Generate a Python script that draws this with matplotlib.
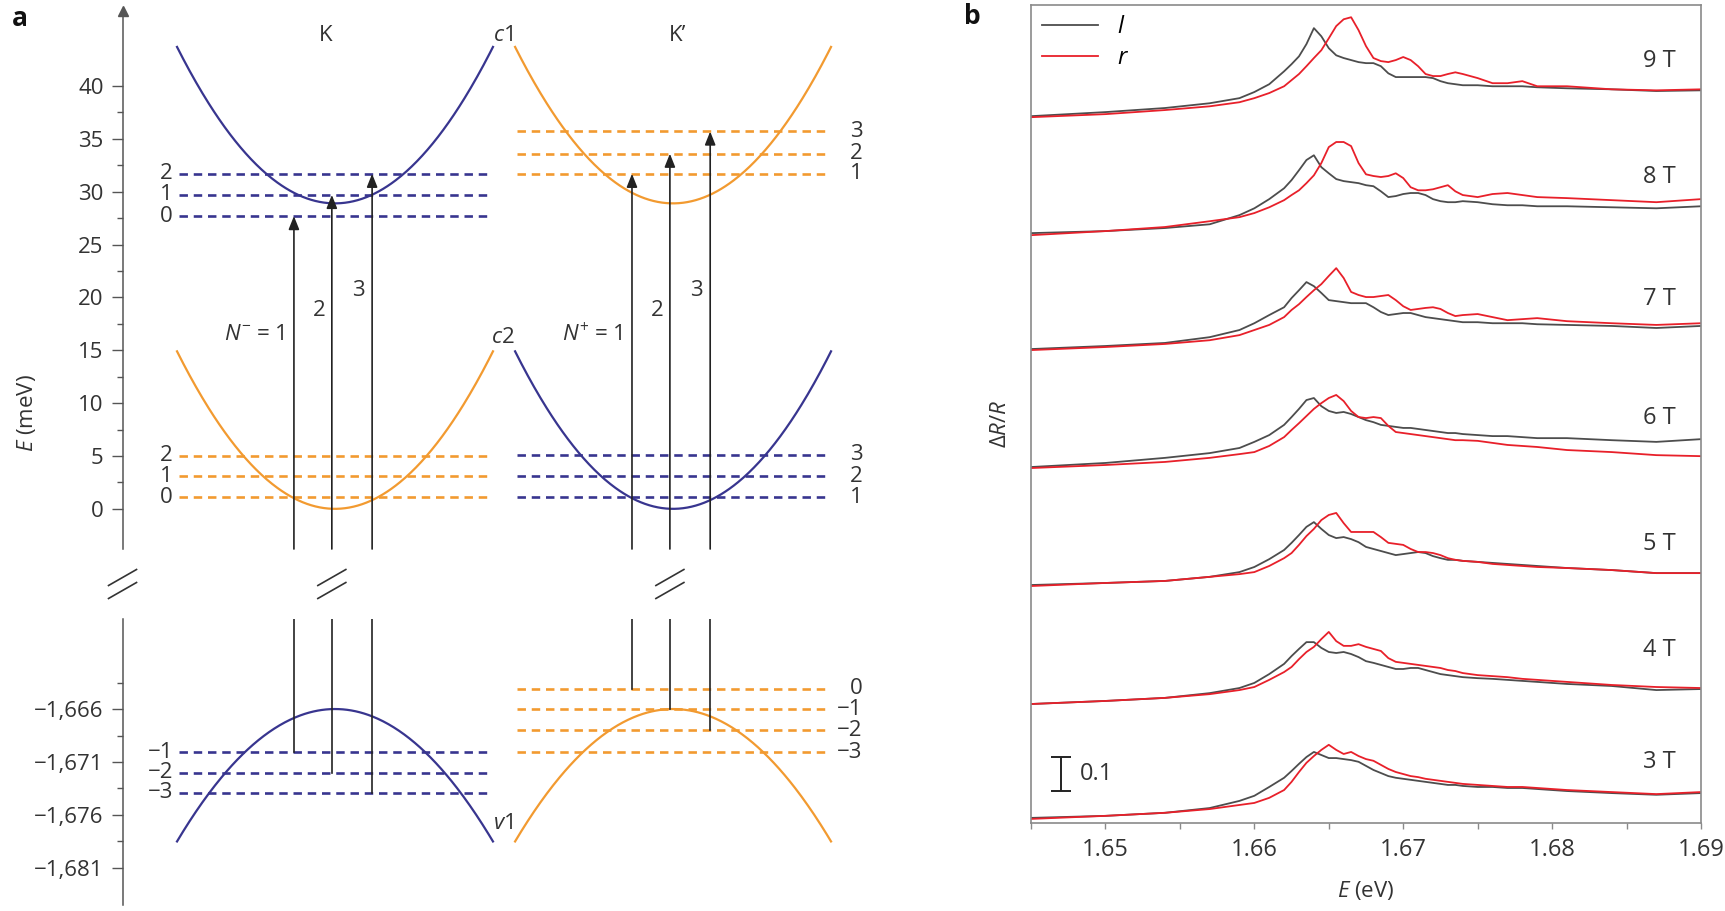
import matplotlib
matplotlib.use("Agg")
import matplotlib.pyplot as plt
import numpy as np
from matplotlib.lines import Line2D
from matplotlib.transforms import IdentityTransform
from matplotlib.ticker import FuncFormatter

plt.rcParams["font.family"] = ["Open Sans", "DejaVu Sans"]
plt.rcParams["mathtext.fontset"] = "custom"
plt.rcParams["mathtext.rm"] = "Open Sans"
plt.rcParams["mathtext.it"] = "Open Sans:italic"
plt.rcParams["mathtext.bf"] = "Open Sans:bold"

BLUE = "#38358f"
ORANGE = "#f29a30"
INK = "#333333"
AXIS = "#555555"
GRAY = "#4d4d4d"
RED = "#e8202a"

# ---------------- panel a: band schematic (meV) ----------------
valley_x = [0.0, 2.14]            # K, K'
valley_names = ["K", "K\u2019"]
c1_min, c1_edge = 28.9, 43.7
c2_min, c2_edge = 0.0, 14.9
v1_max, v1_edge = -1666.0, -1678.5
c1_colors = [BLUE, ORANGE]
c2_colors = [ORANGE, BLUE]
v1_colors = [BLUE, ORANGE]

lvl_c1 = [[27.7, 29.7, 31.7], [31.7, 33.6, 35.7]]
lvl_c1_lab = [["0", "1", "2"], ["1", "2", "3"]]
lvl_c2 = [[1.1, 3.1, 5.0], [1.1, 3.1, 5.1]]
lvl_c2_lab = [["0", "1", "2"], ["1", "2", "3"]]
lvl_v1 = [[-1670.1, -1672.0, -1673.9], [-1664.1, -1666.0, -1668.0, -1670.1]]
lvl_v1_lab = [["\u22121", "\u22122", "\u22123"], ["0", "\u22121", "\u22122", "\u22123"]]

arrow_dx = [-0.26, -0.02, 0.235]
arrow_top = [[27.7, 29.7, 31.7], [31.7, 33.6, 35.7]]
arrow_bottom = [[-1670.1, -1672.0, -1673.9], [-1664.1, -1666.0, -1668.0]]
arrow_labels = [["$N^{-}$ = 1", "2", "3"], ["$N^{+}$ = 1", "2", "3"]]

up_ticks = np.arange(0, 41, 5)
lo_ticks = [-1681, -1676, -1671, -1666]

# ---------------- panel b: reflectance spectra ----------------
energy = [1.645, 1.650, 1.654, 1.657, 1.659, 1.660, 1.661, 1.662, 1.6625, 1.663,
          1.6635, 1.664, 1.6645, 1.665, 1.6655, 1.666, 1.6665, 1.667, 1.6675, 1.668,
          1.6685, 1.669, 1.6695, 1.670, 1.6705, 1.671, 1.6715, 1.672, 1.6725, 1.673,
          1.6735, 1.674, 1.675, 1.676, 1.677, 1.678, 1.679, 1.681, 1.684, 1.687, 1.690]
fields = ["9 T", "8 T", "7 T", "6 T", "5 T", "4 T", "3 T"]
offsets = [2.079, 1.729, 1.391, 1.050, 0.700, 0.350, 0.009]
label_y = [2.24, 1.90, 1.54, 1.19, 0.82, 0.51, 0.18]

l_9T = [0.000, 0.012, 0.024, 0.038, 0.053, 0.071, 0.094, 0.132, 0.153, 0.176, 0.212, 0.259, 0.235, 0.200, 0.179, 0.171, 0.165, 0.159, 0.156, 0.156, 0.147, 0.126, 0.115, 0.115, 0.115, 0.115, 0.115, 0.112, 0.103, 0.097, 0.094, 0.091, 0.091, 0.088, 0.088, 0.088, 0.085, 0.082, 0.079, 0.074, 0.076]
r_9T = [-0.003, 0.006, 0.018, 0.029, 0.041, 0.053, 0.068, 0.088, 0.106, 0.124, 0.147, 0.171, 0.194, 0.229, 0.265, 0.285, 0.291, 0.253, 0.206, 0.171, 0.162, 0.159, 0.165, 0.174, 0.165, 0.147, 0.124, 0.118, 0.118, 0.124, 0.129, 0.124, 0.112, 0.097, 0.097, 0.103, 0.088, 0.088, 0.079, 0.076, 0.079]
l_8T = [0.006, 0.012, 0.021, 0.032, 0.059, 0.079, 0.106, 0.138, 0.162, 0.191, 0.221, 0.235, 0.200, 0.182, 0.165, 0.159, 0.156, 0.153, 0.147, 0.144, 0.129, 0.112, 0.115, 0.121, 0.124, 0.124, 0.118, 0.106, 0.100, 0.097, 0.097, 0.100, 0.097, 0.091, 0.088, 0.088, 0.085, 0.085, 0.082, 0.079, 0.085]
r_8T = [0.000, 0.012, 0.024, 0.041, 0.053, 0.065, 0.082, 0.103, 0.118, 0.132, 0.153, 0.176, 0.212, 0.259, 0.274, 0.274, 0.262, 0.212, 0.179, 0.174, 0.171, 0.174, 0.182, 0.168, 0.141, 0.132, 0.132, 0.135, 0.141, 0.147, 0.129, 0.118, 0.112, 0.121, 0.124, 0.118, 0.112, 0.109, 0.103, 0.097, 0.106]
l_7T = [0.003, 0.012, 0.021, 0.038, 0.059, 0.079, 0.103, 0.126, 0.153, 0.176, 0.200, 0.188, 0.168, 0.147, 0.144, 0.141, 0.138, 0.138, 0.138, 0.126, 0.112, 0.103, 0.106, 0.109, 0.109, 0.103, 0.097, 0.094, 0.091, 0.088, 0.085, 0.082, 0.082, 0.079, 0.079, 0.079, 0.076, 0.074, 0.071, 0.065, 0.071]
r_7T = [0.000, 0.009, 0.018, 0.029, 0.044, 0.059, 0.074, 0.097, 0.118, 0.135, 0.156, 0.176, 0.194, 0.218, 0.241, 0.212, 0.171, 0.162, 0.156, 0.156, 0.159, 0.162, 0.147, 0.129, 0.118, 0.121, 0.124, 0.126, 0.121, 0.109, 0.100, 0.103, 0.106, 0.097, 0.088, 0.091, 0.094, 0.085, 0.079, 0.074, 0.079]
l_6T = [-0.003, 0.009, 0.024, 0.038, 0.053, 0.071, 0.091, 0.121, 0.144, 0.168, 0.194, 0.200, 0.176, 0.162, 0.156, 0.159, 0.153, 0.144, 0.135, 0.129, 0.121, 0.118, 0.115, 0.112, 0.112, 0.109, 0.106, 0.103, 0.100, 0.097, 0.097, 0.094, 0.091, 0.088, 0.088, 0.085, 0.082, 0.082, 0.076, 0.071, 0.079]
r_6T = [-0.006, 0.003, 0.012, 0.024, 0.035, 0.041, 0.059, 0.085, 0.106, 0.126, 0.147, 0.168, 0.185, 0.200, 0.209, 0.191, 0.162, 0.144, 0.141, 0.144, 0.141, 0.118, 0.100, 0.097, 0.094, 0.091, 0.088, 0.085, 0.082, 0.079, 0.076, 0.076, 0.074, 0.068, 0.062, 0.059, 0.056, 0.047, 0.041, 0.032, 0.029]
l_5T = [0.000, 0.006, 0.012, 0.024, 0.038, 0.053, 0.076, 0.103, 0.124, 0.147, 0.171, 0.185, 0.165, 0.147, 0.138, 0.141, 0.135, 0.126, 0.112, 0.106, 0.100, 0.094, 0.088, 0.091, 0.094, 0.097, 0.094, 0.085, 0.079, 0.074, 0.074, 0.071, 0.068, 0.065, 0.062, 0.059, 0.056, 0.050, 0.044, 0.035, 0.035]
r_5T = [-0.003, 0.006, 0.012, 0.024, 0.032, 0.038, 0.056, 0.079, 0.094, 0.118, 0.144, 0.165, 0.191, 0.206, 0.212, 0.182, 0.156, 0.156, 0.156, 0.156, 0.141, 0.124, 0.121, 0.118, 0.106, 0.097, 0.097, 0.094, 0.088, 0.079, 0.074, 0.071, 0.068, 0.062, 0.059, 0.056, 0.053, 0.050, 0.044, 0.035, 0.035]
l_4T = [0.000, 0.009, 0.018, 0.032, 0.047, 0.062, 0.088, 0.118, 0.141, 0.162, 0.182, 0.182, 0.165, 0.153, 0.150, 0.153, 0.147, 0.138, 0.126, 0.121, 0.115, 0.109, 0.103, 0.103, 0.106, 0.106, 0.100, 0.094, 0.088, 0.085, 0.082, 0.079, 0.076, 0.074, 0.071, 0.068, 0.065, 0.059, 0.053, 0.041, 0.044]
r_4T = [0.000, 0.009, 0.018, 0.029, 0.041, 0.050, 0.071, 0.094, 0.109, 0.132, 0.153, 0.168, 0.191, 0.212, 0.185, 0.171, 0.171, 0.176, 0.168, 0.162, 0.156, 0.135, 0.124, 0.121, 0.118, 0.115, 0.112, 0.109, 0.106, 0.100, 0.097, 0.091, 0.085, 0.082, 0.079, 0.074, 0.071, 0.065, 0.056, 0.050, 0.047]
l_3T = [0.006, 0.012, 0.021, 0.035, 0.056, 0.071, 0.097, 0.124, 0.144, 0.165, 0.185, 0.200, 0.191, 0.182, 0.182, 0.179, 0.176, 0.171, 0.159, 0.147, 0.138, 0.129, 0.124, 0.121, 0.118, 0.115, 0.112, 0.109, 0.106, 0.103, 0.103, 0.100, 0.097, 0.097, 0.094, 0.094, 0.091, 0.085, 0.079, 0.074, 0.079]
r_3T = [0.003, 0.012, 0.021, 0.032, 0.044, 0.050, 0.065, 0.088, 0.112, 0.141, 0.168, 0.188, 0.206, 0.221, 0.206, 0.194, 0.200, 0.188, 0.179, 0.174, 0.162, 0.150, 0.141, 0.135, 0.129, 0.126, 0.121, 0.118, 0.115, 0.112, 0.109, 0.106, 0.103, 0.100, 0.097, 0.097, 0.094, 0.088, 0.082, 0.076, 0.082]

l_traces = [l_9T, l_8T, l_7T, l_6T, l_5T, l_4T, l_3T]
r_traces = [r_9T, r_8T, r_7T, r_6T, r_5T, r_4T, r_3T]

W, H = 1725, 911
fig = plt.figure(figsize=(W / 100, H / 100), dpi=100)

ax_up = fig.add_axes([123 / W, 1 - 549 / H, 757 / W, 538 / H])
ax_lo = fig.add_axes([123 / W, 1 - 905 / H, 757 / W, 286 / H])
ax_up.set_ylim(-3.8, 47.1)
ax_lo.set_ylim(-1684.5, -1657.5)

for ax in (ax_up, ax_lo):
    ax.set_xlim(-1.342, 3.45)
    ax.patch.set_visible(False)
    for s in ("top", "right", "bottom"):
        ax.spines[s].set_visible(False)
    ax.spines["left"].set_color(AXIS)
    ax.spines["left"].set_linewidth(1.1)
    ax.set_xticks([])
    ax.tick_params(axis="y", which="major", direction="out", length=8, width=1.0, color=AXIS,
                   labelsize=16, labelcolor=INK, pad=6)
    ax.tick_params(axis="y", which="minor", direction="out", length=4, width=1.0, color=AXIS)

ax_up.set_yticks(up_ticks)
ax_up.set_yticks(np.arange(2.5, 40, 5), minor=True)
ax_lo.set_yticks(lo_ticks)
ax_lo.set_yticks([-1678.5, -1673.5, -1668.5, -1663.5], minor=True)
ax_lo.yaxis.set_major_formatter(FuncFormatter(lambda v, p: "\u2212" + format(abs(int(v)), ",")))
ax_up.plot([0], [1], marker="^", ms=7, color=AXIS, transform=ax_up.transAxes, clip_on=False)

k = np.linspace(-1, 1, 300)
dash = (0, (3.2, 2.2))
for i, cx in enumerate(valley_x):
    ax_up.plot(cx + k, c1_min + (c1_edge - c1_min) * k ** 2, color=c1_colors[i], lw=1.6)
    ax_up.plot(cx + k, c2_min + (c2_edge - c2_min) * k ** 2, color=c2_colors[i], lw=1.6)
    ax_lo.plot(cx + k, v1_max + (v1_edge - v1_max) * k ** 2, color=v1_colors[i], lw=1.6)

    lab_x = cx - 1.025 if i == 0 else cx + 1.20
    for ax, lv, labs, col in ((ax_up, lvl_c1[i], lvl_c1_lab[i], c1_colors[i]),
                              (ax_up, lvl_c2[i], lvl_c2_lab[i], c2_colors[i]),
                              (ax_lo, lvl_v1[i], lvl_v1_lab[i], v1_colors[i])):
        ax.hlines(lv, cx - 0.99, cx + 0.99, colors=col, linestyles=dash, lw=1.9)
        for e, t in zip(lv, labs):
            ax.text(lab_x, e, t, ha="right", va="center", fontsize=16, color=INK)

    for j, dx in enumerate(arrow_dx):
        x = cx + dx
        ax_up.annotate("", xy=(x, arrow_top[i][j]), xytext=(x, -3.8),
                       arrowprops=dict(arrowstyle="-|>,head_length=0.8,head_width=0.32",
                                       color="#222222", lw=1.2, shrinkA=0, shrinkB=0))
        ax_lo.plot([x, x], [-1657.5, arrow_bottom[i][j]], color="#222222", lw=1.2)

    ax_up.text(cx - 0.316, 16.5, arrow_labels[i][0], ha="right", va="center", fontsize=16, color=INK)
    ax_up.text(cx - 0.10, 18.8, arrow_labels[i][1], ha="center", va="center", fontsize=16, color=INK)
    ax_up.text(cx + 0.15, 20.7, arrow_labels[i][2], ha="center", va="center", fontsize=16, color=INK)
    ax_up.text(cx - 0.06 + 0.09 * i, 44.8, valley_names[i], ha="center", va="center", fontsize=16, color=INK)

ax_up.text(1.063, 44.8, "$c$1", ha="center", va="center", fontsize=16, color=INK)
ax_up.text(1.063, 16.2, "$c$2", ha="center", va="center", fontsize=16, color=INK)
ax_lo.text(1.063, -1676.8, "$v$1", ha="center", va="center", fontsize=16, color=INK)


def break_mark(xd):
    x0 = ax_up.transData.transform((xd, 0))[0]
    y0 = fig.bbox.height * (1 - 584 / H)
    for dy in (6.5, -6.5):
        fig.add_artist(Line2D([x0 - 14, x0 + 14], [y0 + dy - 8, y0 + dy + 8],
                              transform=IdentityTransform(), color=INK, lw=1.2))


for xd in (-1.345, -0.02, 2.12):
    break_mark(xd)

fig.text(27 / W, 1 - 413 / H, "$E$ (meV)", rotation=90, ha="center", va="center", fontsize=16, color=INK)
fig.text(20 / W, 1 - 18 / H, "a", ha="center", va="center", fontsize=19, fontweight="bold", color="#111111")
fig.text(972 / W, 1 - 17 / H, "b", ha="center", va="center", fontsize=19, fontweight="bold", color="#111111")

# ---------------- panel b ----------------
ax_b = fig.add_axes([1031 / W, 1 - 823 / H, 670 / W, 818 / H])
ax_b.set_xlim(1.645, 1.69)
ax_b.set_ylim(0, 2.406)
e = np.array(energy)
for off, lt, rt, name, ly in zip(offsets, l_traces, r_traces, fields, label_y):
    ax_b.plot(e, off + np.array(lt), color=GRAY, lw=1.3)
    ax_b.plot(e, off + np.array(rt), color=RED, lw=1.3)
    ax_b.text(1.6872, ly, name, ha="center", va="center", fontsize=17, color=INK)

ax_b.set_yticks([])
ax_b.set_xticks(np.arange(1.65, 1.6901, 0.01))
ax_b.set_xticklabels(["1.65", "1.66", "1.67", "1.68", "1.69"])
ax_b.set_xticks(np.arange(1.645, 1.69, 0.01), minor=True)
ax_b.tick_params(axis="x", which="both", direction="out", length=4, width=1.0, color="#8a8a8a",
                 labelsize=17, labelcolor=INK, pad=7)
for s in ax_b.spines.values():
    s.set_color("#8a8a8a")
    s.set_linewidth(1.2)

ax_b.legend([Line2D([], [], color=GRAY, lw=1.3), Line2D([], [], color=RED, lw=1.3)], ["l", "r"],
            loc="upper left", bbox_to_anchor=(0.016, 0.988), frameon=False, handlelength=2.4,
            handletextpad=0.8, labelspacing=0.3, borderaxespad=0, borderpad=0,
            prop=dict(style="italic", size=17))

ax_b.errorbar([1.647], [0.144], yerr=[0.05], color="#222222", capsize=7, elinewidth=1.4, capthick=1.4)
ax_b.text(1.6483, 0.144, "0.1", ha="left", va="center", fontsize=17, color=INK)

fig.text(1001 / W, 1 - 424 / H, "\u0394$R$/$R$", rotation=90, ha="center", va="center", fontsize=16, color=INK)
fig.text(1366 / W, 1 - 890 / H, "$E$ (eV)", ha="center", va="center", fontsize=16, color=INK)

fig.savefig("out.png", dpi=100)
